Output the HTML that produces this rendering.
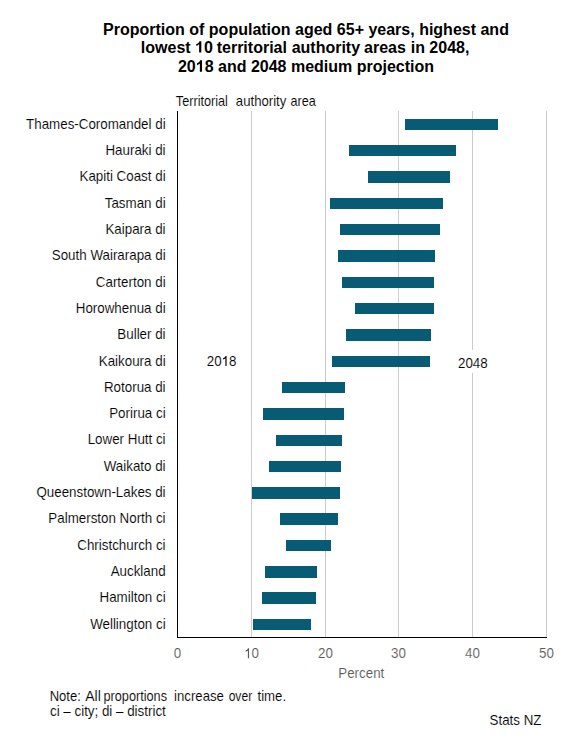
<!DOCTYPE html>
<html><head><meta charset="utf-8"><style>
html,body{margin:0;padding:0;background:#fff;width:567px;height:746px;overflow:hidden}
svg{display:block}
rect{shape-rendering:crispEdges}
text{font-family:"Liberation Sans",sans-serif}
.lab{font-size:14px;fill:#000;stroke:#fff;stroke-width:0.12px}
.tick{font-size:14px;fill:#595959;stroke:#fff;stroke-width:0.12px}
.title{font-size:16px;font-weight:bold;fill:#000}
</style></head><body>
<svg width="567" height="746" viewBox="0 0 567 746">
<rect x="251" y="111" width="1" height="526" fill="#cccccc"/>
<rect x="325" y="111" width="1" height="526" fill="#cccccc"/>
<rect x="398" y="111" width="1" height="526" fill="#cccccc"/>
<rect x="472" y="111" width="1" height="526" fill="#cccccc"/>
<rect x="546" y="111" width="1" height="526" fill="#cccccc"/>
<rect x="405" y="119" width="93" height="11" fill="#085B75"/>
<text transform="translate(165.60 128.85) scale(0.955 1)" class="lab" text-anchor="end">Thames-Coromandel di</text>
<rect x="349" y="145" width="107" height="11" fill="#085B75"/>
<text transform="translate(165.60 155.15) scale(0.955 1)" class="lab" text-anchor="end">Hauraki di</text>
<rect x="368" y="171" width="82" height="12" fill="#085B75"/>
<text transform="translate(165.60 181.45) scale(0.955 1)" class="lab" text-anchor="end">Kapiti Coast di</text>
<rect x="330" y="198" width="113" height="11" fill="#085B75"/>
<text transform="translate(165.60 207.75) scale(0.955 1)" class="lab" text-anchor="end">Tasman di</text>
<rect x="340" y="224" width="100" height="11" fill="#085B75"/>
<text transform="translate(165.60 234.05) scale(0.955 1)" class="lab" text-anchor="end">Kaipara di</text>
<rect x="338" y="250" width="97" height="12" fill="#085B75"/>
<text transform="translate(165.60 260.35) scale(0.955 1)" class="lab" text-anchor="end">South Wairarapa di</text>
<rect x="342" y="277" width="92" height="11" fill="#085B75"/>
<text transform="translate(165.60 286.65) scale(0.955 1)" class="lab" text-anchor="end">Carterton di</text>
<rect x="355" y="303" width="79" height="11" fill="#085B75"/>
<text transform="translate(165.60 312.95) scale(0.955 1)" class="lab" text-anchor="end">Horowhenua di</text>
<rect x="346" y="329" width="85" height="12" fill="#085B75"/>
<text transform="translate(165.60 339.25) scale(0.955 1)" class="lab" text-anchor="end">Buller di</text>
<rect x="332" y="356" width="98" height="11" fill="#085B75"/>
<text transform="translate(165.60 365.55) scale(0.955 1)" class="lab" text-anchor="end">Kaikoura di</text>
<rect x="282" y="382" width="63" height="11" fill="#085B75"/>
<text transform="translate(165.60 391.85) scale(0.955 1)" class="lab" text-anchor="end">Rotorua di</text>
<rect x="263" y="408" width="81" height="12" fill="#085B75"/>
<text transform="translate(165.60 418.15) scale(0.955 1)" class="lab" text-anchor="end">Porirua ci</text>
<rect x="276" y="435" width="66" height="11" fill="#085B75"/>
<text transform="translate(165.60 444.45) scale(0.955 1)" class="lab" text-anchor="end">Lower Hutt ci</text>
<rect x="269" y="461" width="72" height="11" fill="#085B75"/>
<text transform="translate(165.60 470.75) scale(0.955 1)" class="lab" text-anchor="end">Waikato di</text>
<rect x="252" y="487" width="88" height="12" fill="#085B75"/>
<text transform="translate(165.60 497.05) scale(0.955 1)" class="lab" text-anchor="end">Queenstown-Lakes di</text>
<rect x="280" y="513" width="58" height="12" fill="#085B75"/>
<text transform="translate(165.60 523.35) scale(0.955 1)" class="lab" text-anchor="end">Palmerston North ci</text>
<rect x="286" y="540" width="45" height="11" fill="#085B75"/>
<text transform="translate(165.60 549.65) scale(0.955 1)" class="lab" text-anchor="end">Christchurch ci</text>
<rect x="265" y="566" width="52" height="12" fill="#085B75"/>
<text transform="translate(165.60 575.95) scale(0.955 1)" class="lab" text-anchor="end">Auckland</text>
<rect x="262" y="592" width="54" height="12" fill="#085B75"/>
<text transform="translate(165.60 602.25) scale(0.955 1)" class="lab" text-anchor="end">Hamilton ci</text>
<rect x="253" y="619" width="58" height="11" fill="#085B75"/>
<text transform="translate(165.60 628.55) scale(0.955 1)" class="lab" text-anchor="end">Wellington ci</text>
<rect x="177" y="111" width="1" height="527" fill="#000"/>
<rect x="177" y="637" width="370" height="1" fill="#000"/>
<text transform="translate(177.50 658.30) scale(0.955 1)" class="tick" text-anchor="middle">0</text>
<text id="one0" transform="translate(251.50 658.30) scale(0.955 1)" class="tick" text-anchor="middle"> 0</text>
<text transform="translate(325.50 658.30) scale(0.955 1)" class="tick" text-anchor="middle">20</text>
<text transform="translate(398.50 658.30) scale(0.955 1)" class="tick" text-anchor="middle">30</text>
<text transform="translate(472.50 658.30) scale(0.955 1)" class="tick" text-anchor="middle">40</text>
<text transform="translate(546.50 658.30) scale(0.955 1)" class="tick" text-anchor="middle">50</text>
<text transform="translate(361.30 678.00) scale(0.955 1)" class="tick" text-anchor="middle">Percent</text>
<rect x="452" y="350" width="40" height="23" fill="#fff"/>
<text id="one1" transform="translate(221.60 366.00) scale(0.955 1)" class="lab" text-anchor="middle">20 8</text>
<text transform="translate(472.80 368.00) scale(0.955 1)" class="lab" text-anchor="middle">2048</text>
<text x="306.00" y="34.70" class="title" text-anchor="middle">Proportion of population aged 65+ years, highest and</text>
<text id="one2" x="306.00" y="71.70" class="title" text-anchor="middle">20 8 and 2048 medium projection</text>
<text x="140.84" y="52.60" class="title">lowest</text>
<text id="one3" x="195.03" y="52.60" class="title"> 0</text>
<text x="216.69" y="52.60" class="title">territorial</text>
<text x="291.63" y="52.60" class="title">authority</text>
<text x="364.03" y="52.60" class="title">areas</text>
<text x="410.78" y="52.60" class="title">in</text>
<text x="429.33" y="52.60" class="title">2048,</text>
<text transform="translate(175.81 106.30) scale(0.955 1)" class="lab" textLength="54.566" lengthAdjust="spacingAndGlyphs">Territorial</text>
<text transform="translate(235.85 106.30) scale(0.955 1)" class="lab" textLength="52.863" lengthAdjust="spacingAndGlyphs">authority</text>
<text transform="translate(290.58 106.30) scale(0.955 1)" class="lab" textLength="26.428" lengthAdjust="spacingAndGlyphs">area</text>
<text transform="translate(49.65 700.80) scale(0.955 1)" class="lab" textLength="32.625" lengthAdjust="spacingAndGlyphs">Note:</text>
<text transform="translate(85.14 700.80) scale(0.955 1)" class="lab" textLength="16.350" lengthAdjust="spacingAndGlyphs">All</text>
<text transform="translate(103.44 700.80) scale(0.955 1)" class="lab" textLength="66.606" lengthAdjust="spacingAndGlyphs">proportions</text>
<text transform="translate(174.12 700.80) scale(0.955 1)" class="lab" textLength="52.124" lengthAdjust="spacingAndGlyphs">increase</text>
<text transform="translate(228.63 700.80) scale(0.955 1)" class="lab" textLength="24.696" lengthAdjust="spacingAndGlyphs">over</text>
<text transform="translate(257.50 700.80) scale(0.955 1)" class="lab" textLength="29.985" lengthAdjust="spacingAndGlyphs">time.</text>
<text transform="translate(50.00 716.30) scale(0.955 1)" class="lab">ci – city; di – district</text>
<text transform="translate(541.50 724.80) scale(0.955 1)" class="lab" text-anchor="end">Stats NZ</text>
<path transform="translate(244.07 658.30) scale(0.00653 -0.00684)" d="M763 0L583 0L583 1147Q518 1085 412 1023Q315 965 223 944L223 1118Q375 1190 489 1278Q572 1379 620 1466L763 1466Z" fill="#595959"/>
<path transform="translate(221.59 366.00) scale(0.00653 -0.00684)" d="M763 0L583 0L583 1147Q518 1085 412 1023Q315 965 223 944L223 1118Q375 1190 489 1278Q572 1379 620 1466L763 1466Z" fill="#000"/>
<path transform="translate(195.75 71.70) scale(0.00781 -0.00781)" d="M806 0L525 0L525 1059Q371 915 162 833L162 1088Q287 1129 429 1238Q527 1355 564 1466L806 1466Z" fill="#000"/>
<path transform="translate(195.03 52.60) scale(0.00781 -0.00781)" d="M806 0L525 0L525 1059Q371 915 162 833L162 1088Q287 1129 429 1238Q527 1355 564 1466L806 1466Z" fill="#000"/>
</svg>
</body></html>
